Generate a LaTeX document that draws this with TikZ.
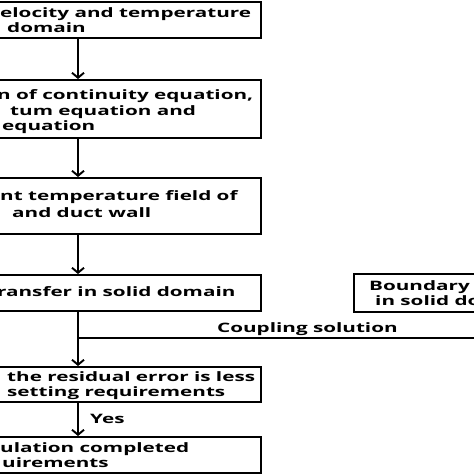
\documentclass[tikz,border=0pt]{standalone}
\usepackage{fontspec}
\setmainfont{Open Sans}[FakeStretch=1.59]
\usetikzlibrary{arrows.meta}
\begin{document}
\begin{tikzpicture}[x=1pt,y=-1pt,
  box/.style={draw, line width=1.6pt, inner sep=0pt, minimum width=330pt},
  txt/.style={anchor=base west, inner sep=0pt, font=\bfseries\fontsize{13}{15}\selectfont},
  arr/.style={line width=1.9pt, -{Straight Barb[length=5pt,width=12pt]}},
  conn/.style={line width=1.9pt}]
\useasboundingbox (0,0) rectangle (474,474);
\coordinate (ax) at (78,0);
% boxes
\node[box, minimum height=36pt, anchor=north east] (b1) at (262,1) {};
\node[box, minimum height=58pt, anchor=north east] (b2) at (262,79) {};
\node[box, minimum height=56pt, anchor=north east] (b3) at (262,177) {};
\node[box, minimum height=36pt, anchor=north east] (b4) at (262,274) {};
\node[box, minimum height=35pt, anchor=north east] (b5) at (262,366) {};
\node[box, minimum height=36pt, anchor=north east] (b6) at (262,436) {};
\node[box, minimum width=250pt, minimum height=38pt, anchor=north west] (rb) at (353,273) {};
% texts
\node[txt] (t1a) at (0,17) {elocity and temperature};
\node[txt] (t1b) at (7,32) {domain};
\node[txt] (t2a) at (-3,99) {n of continuity equation,};
\node[txt] (t2b) at (10,115) {tum equation and};
\node[txt] (t2c) at (2,130) {equation};
\node[txt] (t3a) at (0,200) {nt temperature field of};
\node[txt] (t3b) at (12,217) {and duct wall};
\node[txt] (t4a) at (-3,296) {ransfer in solid domain};
\node[txt] (t5a) at (7,381) {the residual error is less};
\node[txt] (t5b) at (7,396) {setting requirements};
\node[txt] (t6a) at (0,452) {ulation completed};
\node[txt] (t6b) at (2,467) {uirements};
\node[txt] (trb1) at (369,290) {Boundary};
\node[txt] (trb2) at (375,305) {in solid domain};
\node[txt] (cpl) at (217,332) {Coupling solution};
\node[txt] (yes) at (90,423) {Yes};
% connectors
\draw[arr] (b1.south -| ax) -- (b2.north -| ax);
\draw[arr] (b2.south -| ax) -- (b3.north -| ax);
\draw[arr] (b3.south -| ax) -- (b4.north -| ax);
\draw[arr] (b4.south -| ax) -- (b5.north -| ax);
\draw[arr] (b5.south -| ax) -- (b6.north -| ax);
\coordinate (cj) at (78,338);
\coordinate (cr) at (495,338);
\draw[conn] (rb.south -| cr) -- (cr) -- (cj);
\end{tikzpicture}
\end{document}
